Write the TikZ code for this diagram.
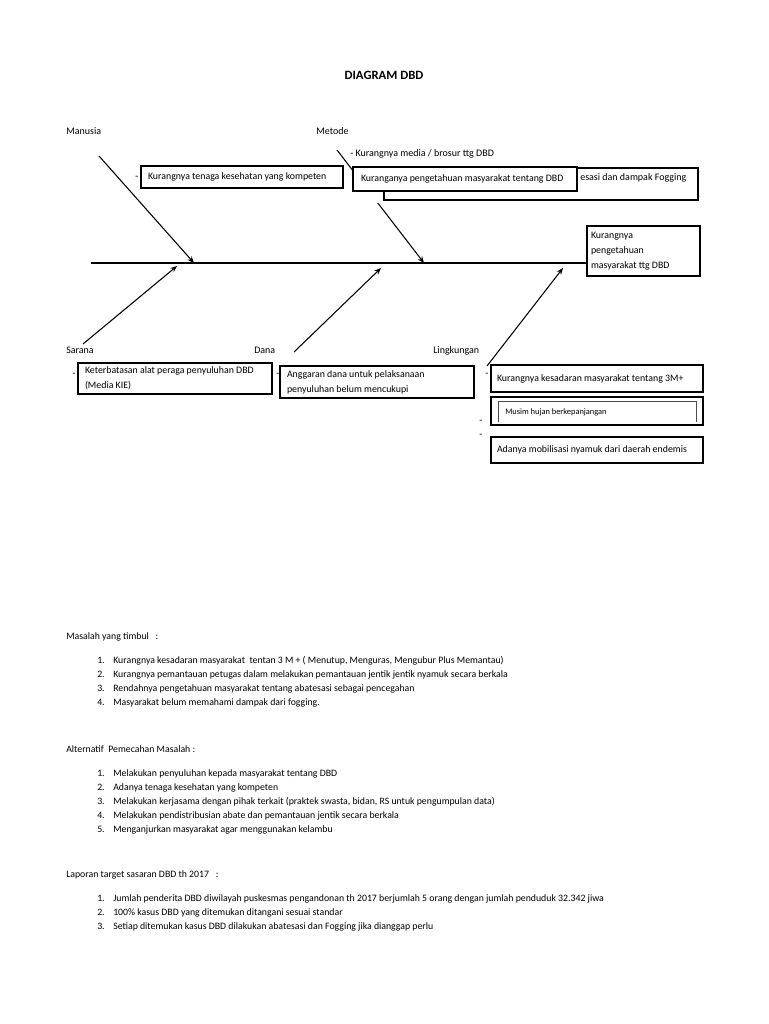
\documentclass[tikz,border=0pt]{standalone}
\usepackage{fontspec}
\setmainfont{Carlito}
\usetikzlibrary{arrows.meta}
\tikzset{
  txt/.style={font=\fontsize{7.35}{9}\selectfont, inner sep=0pt, anchor=base west},
  lbl/.style={font=\fontsize{7.5}{9}\selectfont, inner sep=0pt, anchor=base west},
  box/.style={draw, fill=white, line width=0.9pt, align=flush left, inner ysep=0pt, font=\fontsize{7.4}{11.25}\selectfont},
  bone/.style={line width=0.8pt, -{Stealth[length=5pt,width=4pt]}},
  spine/.style={line width=0.9pt}
}
\begin{document}
\begin{tikzpicture}[x=0.75pt,y=-0.75pt]
\useasboundingbox (0,0) rectangle (768,1024);
\fill[white] (0,0) rectangle (768,1024);

% title
\node[font=\fontsize{9.5}{11}\selectfont\bfseries, inner sep=0pt] (title) at (384,75) {DIAGRAM DBD};

% category labels
\node[lbl] (manusia) at (66,134) {Manusia};
\node[lbl] (metode) at (316,134) {Metode};
\node[lbl] (sarana) at (66,353) {Sarana};
\node[lbl] (dana) at (254,353) {Dana};
\node[lbl] (lingk) at (433,353) {Lingkungan};

% coordinates for bones
\coordinate (manS) at (99,156);
\coordinate (manE) at (194,263);
\coordinate (metS) at (337,150);
\coordinate (metE) at (424,263);
\coordinate (sarS) at (83,344);
\coordinate (sarE) at (177,266);
\coordinate (danS) at (294,352);
\coordinate (danE) at (381,268);
\coordinate (linS) at (487,366);
\coordinate (linE) at (563,268);
\coordinate (spS) at (91,263);

% effect box
\node[box, minimum width=84.75pt, minimum height=37.5pt, text width=78.75pt, inner xsep=3pt] (eff) at (643.5,251)
  {Kurangnya\\pengetahuan\\masyarakat ttg DBD};

% spine
\draw[spine] (spS) -- (spS -| eff.west);

% bones
\draw[bone] (manS) -- (manE);
\draw[bone] (metS) -- (metE);
\draw[bone] (sarS) -- (sarE);
\draw[bone] (danS) -- (danE);
\draw[bone] (linS) -- (linE);

% upper boxes
\node[lbl] (d1) at (135,179) {-};
\node[box, minimum width=151.5pt, minimum height=16.5pt, text width=141pt, inner xsep=5.25pt] (kt) at (242,177)
  {Kurangnya tenaga kesehatan yang kompeten};

\node[lbl] (media) at (350,156) {- Kurangnya media / brosur ttg DBD};
\node[box, minimum width=235.5pt, minimum height=24pt, inner sep=0pt] (kb) at (541,184) {};
\node[lbl] (kbt) at (580,180) {esasi dan dampak Fogging};
\fill[white] (358,191) rectangle (383,203);
\node[box, minimum width=168pt, minimum height=18pt, text width=156pt, inner xsep=6pt] (km) at (465,179)
  {Kuranganya pengetahuan masyarakat tentang DBD};

% lower boxes
\node[lbl] (d2) at (72,376) {-};
\node[box, minimum width=145.5pt, minimum height=23.25pt, text width=135pt, inner xsep=5.25pt] (ks) at (175,378.5)
  {Keterbatasan alat peraga penyuluhan DBD\\(Media KIE)};
\node[lbl] (d3) at (276,376) {-};
\node[box, minimum width=145.5pt, minimum height=24pt, text width=135pt, inner xsep=5.25pt] (ka) at (377,382)
  {Anggaran dana untuk pelaksanaan\\penyuluhan belum mencukupi};

\node[lbl] (d4) at (485,376) {-};
\node[box, minimum width=159pt, minimum height=20.25pt, text width=150pt, inner xsep=4.5pt] (l1) at (597,378.5)
  {Kurangnya kesadaran masyarakat tentang 3M+};
\node[lbl] (d5) at (479,423) {-};
\node[box, minimum width=159pt, minimum height=21pt, inner sep=0pt] (l2) at (597,411) {};
\draw[line width=0.6pt, black!70] (498,422) coordinate (inA) -- (498,401) -- (696,401) -- (696,422) coordinate (inB);
\node[txt, font=\fontsize{6.3}{8}\selectfont] (l2t) at (505,414) {Musim hujan berkepanjangan};
\node[lbl] (d6) at (479,437) {-};
\node[box, minimum width=159pt, minimum height=19.5pt, text width=150pt, inner xsep=4.5pt] (l3) at (597,450)
  {Adanya mobilisasi nyamuk dari daerah endemis};

% lists
\node[txt] (h1) at (66,639) {Masalah yang timbul\ \ \ :};
\node[txt] (a1n) at (97,663) {1.};
\node[txt] (a1) at (113,663) {Kurangnya kesadaran masyarakat\ \ tentan 3 M + ( Menutup, Menguras, Mengubur Plus Memantau)};
\node[txt] (a2n) at (97,677) {2.};
\node[txt] (a2) at (113,677) {Kurangnya pemantauan petugas dalam melakukan pemantauan jentik jentik nyamuk secara berkala};
\node[txt] (a3n) at (97,691) {3.};
\node[txt] (a3) at (113,691) {Rendahnya pengetahuan masyarakat tentang abatesasi sebagai pencegahan};
\node[txt] (a4n) at (97,705) {4.};
\node[txt] (a4) at (113,705) {Masyarakat belum memahami dampak dari fogging.};

\node[txt] (h2) at (66,752) {Alternatif\ \ Pemecahan Masalah :};
\node[txt] (b1n) at (97,776) {1.};
\node[txt] (b1) at (113,776) {Melakukan penyuluhan kepada masyarakat tentang DBD};
\node[txt] (b2n) at (97,790) {2.};
\node[txt] (b2) at (113,790) {Adanya tenaga kesehatan yang kompeten};
\node[txt] (b3n) at (97,804) {3.};
\node[txt] (b3) at (113,804) {Melakukan kerjasama dengan pihak terkait (praktek swasta, bidan, RS untuk pengumpulan data)};
\node[txt] (b4n) at (97,818) {4.};
\node[txt] (b4) at (113,818) {Melakukan pendistribusian abate dan pemantauan jentik secara berkala};
\node[txt] (b5n) at (97,832) {5.};
\node[txt] (b5) at (113,832) {Menganjurkan masyarakat agar menggunakan kelambu};

\node[txt] (h3) at (66,877) {Laporan target sasaran DBD th 2017\ \ \ :};
\node[txt] (c1n) at (97,901) {1.};
\node[txt] (c1) at (113,901) {Jumlah penderita DBD diwilayah puskesmas pengandonan th 2017 berjumlah 5 orang dengan jumlah penduduk 32.342 jiwa};
\node[txt] (c2n) at (97,915) {2.};
\node[txt] (c2) at (113,915) {100\% kasus DBD yang ditemukan ditangani sesuai standar};
\node[txt] (c3n) at (97,929) {3.};
\node[txt] (c3) at (113,929) {Setiap ditemukan kasus DBD dilakukan abatesasi dan Fogging jika dianggap perlu};
\end{tikzpicture}
\end{document}
